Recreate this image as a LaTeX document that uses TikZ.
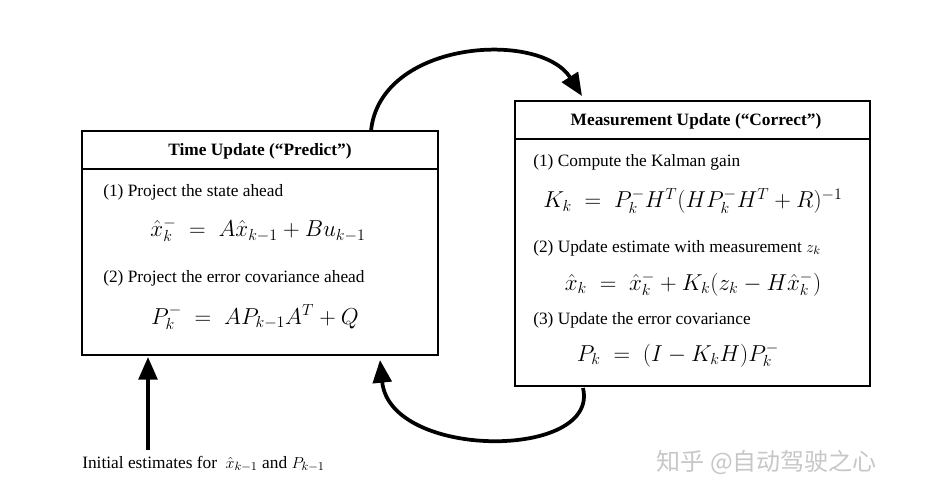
\documentclass[tikz,border=0pt]{standalone}
\usepackage{fontspec}
\setmainfont{Liberation Serif}
\newfontfamily\cjk{Noto Sans CJK SC}
\usetikzlibrary{arrows.meta}
\begin{document}
\begin{tikzpicture}[x=0.75pt,y=-0.75pt,
  box/.style={draw,line width=0.8pt},
  txt/.style={anchor=west,font=\fontsize{13}{15}\selectfont,inner sep=0},
  eqn/.style={font=\fontsize{17.5}{20}\selectfont,inner sep=0},
  big/.style={line width=2.8pt,-{Triangle[length=17pt,width=14pt]}}]
\useasboundingbox (0,0) rectangle (932,501);
\draw[box] (82,131) rectangle (438,355);
\draw[box] (82,169) -- (438,169);
\draw[box] (515,101) rectangle (870,386);
\draw[box] (515,139) -- (870,139);
\node[font=\bfseries\fontsize{13}{15}\selectfont] (t1) at (260,151) {Time Update (“Predict”)};
\node[font=\bfseries\fontsize{13}{15}\selectfont] (t2) at (696,121) {Measurement Update (“Correct”)};
\node[txt] (a1) at (103,192) {(1) Project the state ahead};
\node[eqn] (e1) at (258,230) {$\hat{x}^{-}_{k} \;=\; A\hat{x}_{k-1}+Bu_{k-1}$};
\node[txt] (a2) at (103,278) {(2) Project the error covariance ahead};
\node[eqn] (e2) at (255,317) {$P^{-}_{k} \;=\; AP_{k-1}A^{T}+Q$};
\node[txt] (b1) at (533,162) {(1) Compute the Kalman gain};
\node[eqn] (f1) at (693,201) {$K_{k} \;=\; P^{-}_{k}H^{T}(HP^{-}_{k}H^{T}+R)^{-1}$};
\node[txt] (b2) at (533,248) {(2) Update estimate with measurement $z_k$};
\node[eqn] (f2) at (693,284) {$\hat{x}_{k} \;=\; \hat{x}^{-}_{k}+K_{k}(z_{k}-H\hat{x}^{-}_{k})$};
\node[txt] (b3) at (533,320) {(3) Update the error covariance};
\node[eqn] (f3) at (678,355) {$P_{k} \;=\; (I-K_{k}H)P^{-}_{k}$};
\node[txt] (init) at (82,464) {Initial estimates for \ $\hat{x}_{k-1}$ and $P_{k-1}$};
\coordinate (s1) at (371,131);
\coordinate (d1) at (582,96);
\coordinate (s2) at (583,388);
\coordinate (d2) at (380,360);
\coordinate (s3) at (148,450);
\coordinate (d3) at (148,357);
\draw[big] (s1) .. controls (380,40) and (540,30) .. (d1);
\draw[big] (s2) .. controls (600,460) and (390,460) .. (d2);
\draw[big] (s3) -- (d3);
\node[anchor=west,font=\cjk\fontsize{18}{20}\selectfont,text=black!22] (wm) at (652,462) {知乎 @自动驾驶之心};
\end{tikzpicture}
\end{document}
